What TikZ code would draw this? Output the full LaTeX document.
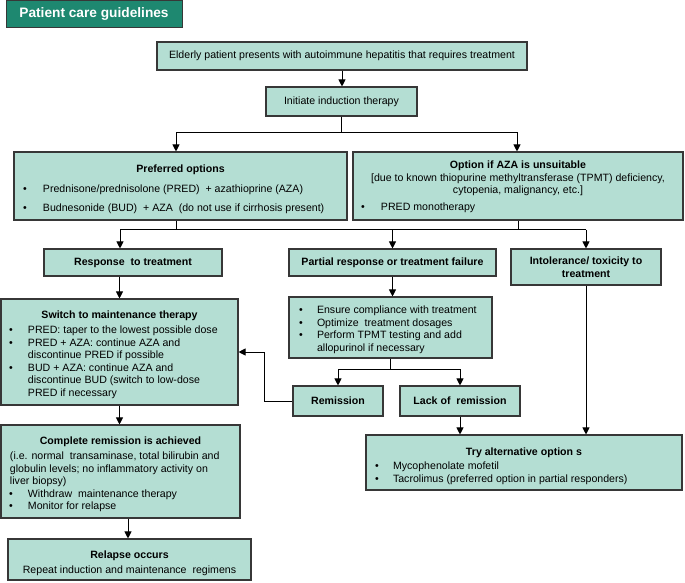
\documentclass[tikz,border=0pt]{standalone}
\usepackage{fontspec}
\setmainfont{Liberation Sans}
\usetikzlibrary{arrows.meta,calc}
\definecolor{boxfill}{RGB}{180,222,211}
\definecolor{titlefill}{RGB}{30,136,112}
\definecolor{edgecol}{RGB}{55,55,55}
\setlength\parindent{0pt}
\newlength\bulx \newlength\txtx
\newcommand\hd[1]{\makebox[\hsize]{\bfseries #1}}
\newcommand\cen[1]{\makebox[\hsize]{#1}}
\newcommand\bl[1]{\hspace*{\bulx}\makebox[\dimexpr\txtx-\bulx\relax][l]{•}#1}
\newcommand\cl[1]{\hspace*{\txtx}#1}
\newcommand\pl[1]{\hspace*{\dimexpr\bulx+0.8pt\relax}#1}
% width, height, top pad, bullet x, text x, content
\newcommand\tbox[6]{\setlength\bulx{#4pt}\setlength\txtx{#5pt}%
  \parbox[c][#2pt][t]{#1pt}{\vspace*{#3pt}\strut#6}}
\begin{document}
\begin{tikzpicture}[x=1pt,y=-1pt,
 box/.style={draw=edgecol,fill=boxfill,line width=1.1pt,inner sep=0pt,
   font=\fontsize{10.6}{12.6}\selectfont},
 cbox/.style={box,align=center},
 bbox/.style={cbox,font=\fontsize{10.6}{12.6}\selectfont\bfseries},
 arr/.style={draw=black,line width=0.9pt,-{Triangle[length=7pt,width=7pt]}},
 ln/.style={draw=black,line width=0.9pt}]
\useasboundingbox (0,0) rectangle (685,582);

\node[draw=edgecol,fill=titlefill,line width=0.8pt,minimum width=176,minimum height=27,inner sep=0pt,
  text=white,font=\fontsize{13.7}{15}\selectfont\bfseries] (title) at (94,13.5) {Patient care guidelines};

\node[cbox,minimum width=370,minimum height=28] (top) at (342,56)
  {Elderly patient presents with autoimmune hepatitis that requires treatment};
\node[cbox,minimum width=151,minimum height=29] (init) at (341.5,101.5)
  {Initiate induction therapy};

\node[box] (pref) at (180.5,186)
  {\tbox{333}{68}{11.7}{9.2}{29}{\hd{Preferred options}\\[7pt]
   \bl{Prednisone/prednisolone (PRED)\ \ + azathioprine (AZA)}\\[6.5pt]
   \bl{Budnesonide (BUD)\ \ + AZA\ \ (do not use if cirrhosis present)}}};
\node[box] (opt) at (518,186)
  {\tbox{330}{68}{7.7}{8.2}{28}{\hd{Option if AZA is unsuitable}\\
   \cen{[due to known thiopurine methyltransferase (TPMT) deficiency,}\\
   \cen{cytopenia, malignancy, etc.]}\\[4.4pt]
   \bl{PRED monotherapy}}};

\node[bbox,minimum width=178,minimum height=27] (resp) at (133,262.5)
  {Response\ \ to treatment};
\node[bbox,minimum width=207,minimum height=27] (part) at (392.5,262.5)
  {Partial response or treatment failure};
\node[bbox,minimum width=150,minimum height=36,font=\fontsize{10.6}{13.3}\selectfont\bfseries] (intol) at (586,267)
  {Intolerance/ toxicity to\\treatment};

\node[box] (sw) at (119.5,352)
  {\tbox{237}{106}{10.7}{8.2}{27}{\hd{Switch to maintenance therapy}\\[2.4pt]
   \bl{PRED: taper to the lowest possible dose}\\
   \bl{PRED + AZA: continue AZA and}\\
   \cl{discontinue PRED if possible}\\
   \bl{BUD + AZA: continue AZA and}\\
   \cl{discontinue BUD (switch to low-dose}\\
   \cl{PRED if necessary}}};

\node[box] (ens) at (390.5,327.5)
  {\tbox{203}{61}{7.7}{10.2}{28}{\bl{Ensure compliance with treatment}\\
   \bl{Optimize\ \ treatment dosages}\\
   \bl{Perform TPMT testing and add}\\
   \cl{allopurinol if necessary}}};

\node[bbox,minimum width=90,minimum height=30] (rem) at (338,401)
  {Remission};
\node[bbox,minimum width=120,minimum height=30] (lack) at (460,401)
  {Lack of\ \ remission};

\node[box] (comp) at (120.5,471.5)
  {\tbox{239}{93}{10.7}{8.2}{27}{\hd{Complete remission is achieved}\\[2.4pt]
   \pl{(i.e. normal\ \ transaminase, total bilirubin and}\\
   \pl{globulin levels; no inflammatory activity on}\\
   \pl{liver biopsy)}\\
   \bl{Withdraw\ \ maintenance therapy}\\
   \bl{Monitor for relapse}}};

\node[box] (rel) at (129.5,559.5)
  {\tbox{243}{41}{10.7}{0}{0}{\hd{Relapse occurs}\\[2.4pt]
   \cen{Repeat induction and maintenance\ \ regimens}}};

\node[box] (try) at (524,462.5)
  {\tbox{316}{55}{11.7}{9.2}{27}{\hd{Try alternative option s}\\[1.4pt]
   \bl{Mycophenolate mofetil}\\
   \bl{Tacrolimus (preferred option in partial responders)}}};

% connectors
\draw[arr] (top.south) -- (top.south |- init.north);
\draw[arr] (init.south) -- ++(0,16) -| ([xshift=-4.5pt]pref.north);
\draw[arr] (init.south) -- ++(0,16) -| ([xshift=-1pt]opt.north);

\coordinate (hl) at (120,229.5);
\coordinate (hr) at (586,229.5);
\draw[ln] ([xshift=-4.5pt]pref.south) -- ([xshift=-4.5pt]pref.south |- hl);
\draw[ln] (opt.south) -- (opt.south |- hl);
\draw[ln] (hl) -- (hr);
\draw[arr] (hl) -- (hl |- resp.north);
\draw[arr] (part.north |- hl) -- (part.north);
\draw[arr] (hr) -- (intol.north);

\draw[arr] (resp.south -| sw.north) -- (sw.north);
\draw[arr] (part.south) -- (part.south |- ens.north);
\draw[arr] (ens.south) -- ++(0,11) -| (rem.north);
\draw[arr] (ens.south) -- ++(0,11) -| (lack.north);
\draw[arr] (rem.west) -- ++(-28,0) |- (sw.east);
\draw[arr] (sw.south) -- (sw.south |- comp.north);
\draw[arr] ([xshift=7.5pt]comp.south) -- ([xshift=7.5pt]comp.south |- rel.north);
\draw[arr] (lack.south) -- (lack.south |- try.north);
\draw[arr] (intol.south) -- (intol.south |- try.north);
\end{tikzpicture}
\end{document}
